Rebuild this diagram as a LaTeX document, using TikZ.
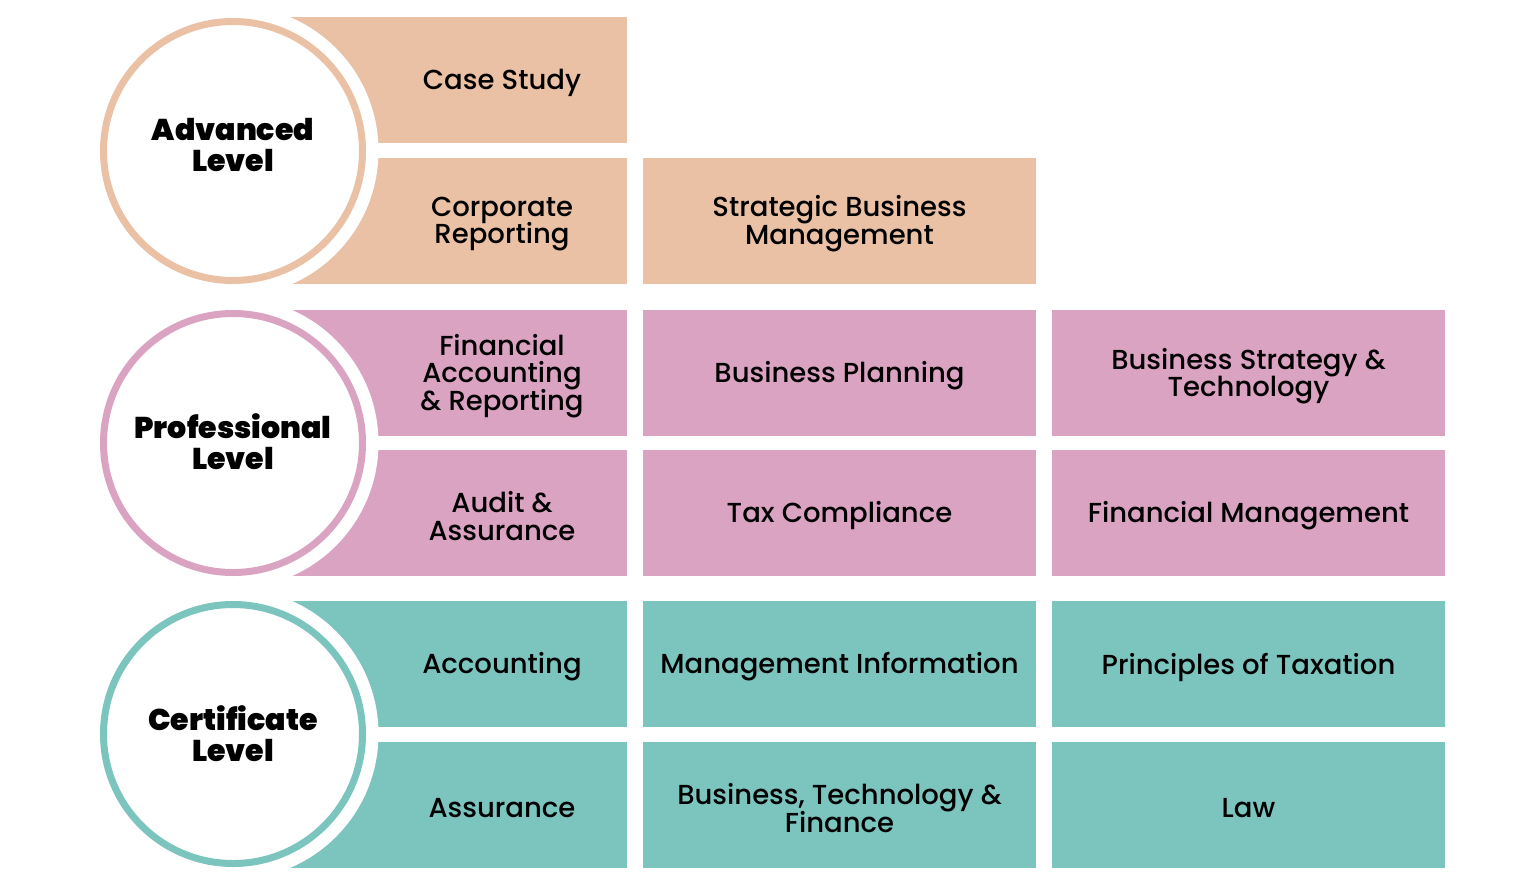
\documentclass[tikz,border=0pt]{standalone}
\usepackage{fontspec}
\setmainfont{Poppins}
\newfontfamily\heavyfont{Poppins Black}
\newfontfamily\medfont{Poppins Medium}
\definecolor{peach}{HTML}{EAC1A5}
\definecolor{pink}{HTML}{DBA3C2}
\definecolor{teal}{HTML}{7BC5BE}
\begin{document}
\lineskiplimit=-30pt\relax
\begin{tikzpicture}[x=1pt,y=-1pt,
  box/.style={minimum width=393pt, minimum height=126pt, inner sep=0pt, outer sep=0pt, draw=none},
  boxtext/.style={align=center, inner sep=0pt, font=\medfont\fontsize{27.5}{27.7}\selectfont},
  gapdisc/.style={circle, fill=white, minimum size=291pt, inner sep=0pt},
  ring/.style={circle, fill=white, draw=#1, line width=7pt, minimum size=259pt, inner sep=0pt},
  lvl/.style={align=center, inner sep=0pt, font=\heavyfont\fontsize{30}{31}\selectfont},
]
\useasboundingbox[fill=white] (0,0) rectangle (1536,886);

% column 1 fills (extend under circles)
\fill[peach] (233,17) rectangle (627,143);
\fill[peach] (233,158) rectangle (627,284);
\fill[pink] (233,310) rectangle (627,436);
\fill[pink] (233,450) rectangle (627,576);
\fill[teal] (233,601) rectangle (627,727);
\fill[teal] (233,742) rectangle (627,868);

% white gaps round circles
\node[gapdisc] (ga) at (233,151) {};
\node[gapdisc] (gp) at (233,443) {};
\node[gapdisc] (gc) at (233,734) {};

% level circles
\node[ring=peach] (adv) at (233,151) {};
\node[ring=pink] (pro) at (233,443) {};
\node[ring=teal] (cer) at (233,734) {};
\node[lvl] (advt) at (233,145.5) {Advanced\\Level};
\node[lvl] (prot) at (233,442) {Professional\\Level};
\node[lvl] (cert) at (233,734) {Certificate\\Level};

% column 1 texts
\node[boxtext] (a11) at (502,83) {Case Study};
\node[boxtext] (a21) at (502,224) {Corporate\\Reporting};
\node[boxtext] (p11) at (502,376) {Financial\\Accounting\\\& Reporting};
\node[boxtext] (p21) at (502,516) {Audit \&\\Assurance};
\node[boxtext] (c11) at (502,667) {Accounting};
\node[boxtext] (c21) at (502,808) {Assurance};

% column 2
\node[box, fill=peach] (a22) at (839.5,221) {};
\node[box, fill=pink] (p12) at (839.5,373) {};
\node[box, fill=pink] (p22) at (839.5,513) {};
\node[box, fill=teal] (c12) at (839.5,664) {};
\node[box, fill=teal] (c22) at (839.5,805) {};
\node[boxtext] at ([yshift=-3pt]a22.center) {Strategic Business\\Management};
\node[boxtext] at ([yshift=-3pt]p12.center) {Business Planning};
\node[boxtext] at ([yshift=-3pt]p22.center) {Tax Compliance};
\node[boxtext] at ([yshift=-3pt]c12.center) {Management Information};
\node[boxtext] at ([yshift=-3pt]c22.center) {Business, Technology \&\\Finance};

% column 3
\node[box, fill=pink] (p13) at (1248.5,373) {};
\node[box, fill=pink] (p23) at (1248.5,513) {};
\node[box, fill=teal] (c13) at (1248.5,664) {};
\node[box, fill=teal] (c23) at (1248.5,805) {};
\node[boxtext] at ([yshift=-3pt]p13.center) {Business Strategy \&\\Technology};
\node[boxtext] at ([yshift=-3pt]p23.center) {Financial Management};
\node[boxtext] at ([yshift=-3pt]c13.center) {Principles of Taxation};
\node[boxtext] at ([yshift=-3pt]c23.center) {Law};
\end{tikzpicture}
\end{document}
